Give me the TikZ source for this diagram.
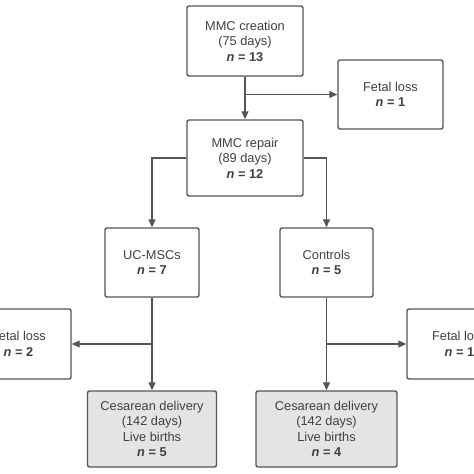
\documentclass[tikz,border=0pt]{standalone}
\usepackage{fontspec}
\setmainfont{Liberation Sans}
\usetikzlibrary{arrows.meta}
\definecolor{edgec}{HTML}{555555}
\definecolor{txtc}{HTML}{404040}
\definecolor{shadec}{HTML}{E4E4E4}
\newcommand{\nval}[1]{\textbf{\textit{n} = #1}}
\begin{document}
\begin{tikzpicture}[x=1pt,y=-1pt,
 box/.style={draw=edgec, line width=1.4pt, rounded corners=2pt, fill=white, text=txtc, align=center, font=\fontsize{12.8}{15.5}\selectfont, inner sep=0pt},
 grey/.style={box, fill=shadec},
 conn/.style={draw=edgec, line width=1.3pt, -{Triangle[length=8pt,width=7pt]}}]
\useasboundingbox (0,0) rectangle (474,474);
\node[box, minimum width=116pt, minimum height=70pt] (create) at (245,41) {MMC creation\\(75 days)\\\nval{13}};
\node[box, minimum width=105pt, minimum height=69pt] (loss1) at (390.5,94.5) {Fetal loss\\\nval{1}};
\node[box, minimum width=116pt, minimum height=76pt] (repair) at (245,158) {MMC repair\\(89 days)\\\nval{12}};
\node[box, minimum width=94pt, minimum height=69pt] (ucm) at (152,262.5) {UC-MSCs\\\nval{7}};
\node[box, minimum width=93pt, minimum height=69pt] (ctrl) at (326.5,262.5) {Controls\\\nval{5}};
\node[box, minimum width=105pt, minimum height=70pt] (loss2) at (18.5,344) {Fetal loss\\\nval{2}};
\node[box, minimum width=105pt, minimum height=70pt] (loss3) at (459.5,344) {Fetal loss\\\nval{1}};
\node[grey, minimum width=129pt, minimum height=76pt] (ces1) at (152,429) {Cesarean delivery\\(142 days)\\Live births\\\nval{5}};
\node[grey, minimum width=141pt, minimum height=76pt] (ces2) at (326.5,429) {Cesarean delivery\\(142 days)\\Live births\\\nval{4}};
\draw[conn] (create.south) -- (repair.north);
\draw[conn] (create.south |- loss1.west) -- (loss1.west);
\draw[conn] (repair.west) -| (ucm.north);
\draw[conn] (repair.east) -| (ctrl.north);
\draw[conn] (ucm.south) -- (ces1.north);
\draw[conn] (ucm.south |- loss2.east) -- (loss2.east);
\draw[conn] (ctrl.south) -- (ces2.north);
\draw[conn] (ctrl.south |- loss3.west) -- (loss3.west);
\end{tikzpicture}
\end{document}
